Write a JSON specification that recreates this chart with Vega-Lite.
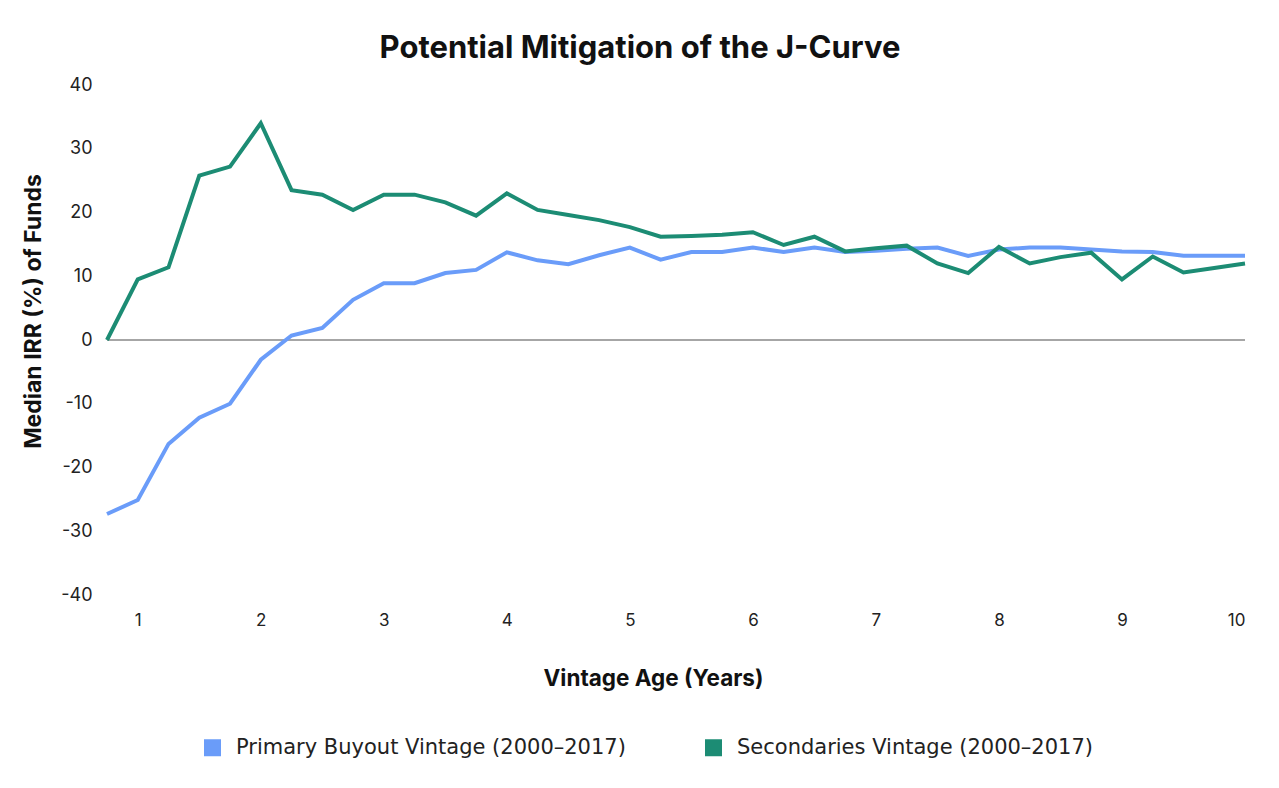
{
  "$schema": "https://vega.github.io/schema/vega-lite/v6.json",
  "width": 1138,
  "height": 510,
  "autosize": {"type": "none"},
  "padding": {"left": 107, "top": 85, "right": 34, "bottom": 193},
  "background": "white",
  "title": {
    "text": "Potential Mitigation of the J-Curve",
    "font": "Inter",
    "fontSize": 31,
    "fontWeight": "bold",
    "color": "#111111",
    "anchor": "middle",
    "frame": "group",
    "dx": -36,
    "offset": 11
  },
  "config": {
    "view": {"stroke": null},
    "font": "Inter"
  },
  "data": {
    "values": [
      {"x": 0.75, "series": "Primary Buyout Vintage (2000–2017)", "irr": -27.3},
      {"x": 1.0, "series": "Primary Buyout Vintage (2000–2017)", "irr": -25.1},
      {"x": 1.25, "series": "Primary Buyout Vintage (2000–2017)", "irr": -16.3},
      {"x": 1.5, "series": "Primary Buyout Vintage (2000–2017)", "irr": -12.2},
      {"x": 1.75, "series": "Primary Buyout Vintage (2000–2017)", "irr": -10.0},
      {"x": 2.0, "series": "Primary Buyout Vintage (2000–2017)", "irr": -3.1},
      {"x": 2.25, "series": "Primary Buyout Vintage (2000–2017)", "irr": 0.7},
      {"x": 2.5, "series": "Primary Buyout Vintage (2000–2017)", "irr": 1.9},
      {"x": 2.75, "series": "Primary Buyout Vintage (2000–2017)", "irr": 6.3},
      {"x": 3.0, "series": "Primary Buyout Vintage (2000–2017)", "irr": 8.9},
      {"x": 3.25, "series": "Primary Buyout Vintage (2000–2017)", "irr": 8.9},
      {"x": 3.5, "series": "Primary Buyout Vintage (2000–2017)", "irr": 10.5},
      {"x": 3.75, "series": "Primary Buyout Vintage (2000–2017)", "irr": 11.0},
      {"x": 4.0, "series": "Primary Buyout Vintage (2000–2017)", "irr": 13.75},
      {"x": 4.25, "series": "Primary Buyout Vintage (2000–2017)", "irr": 12.5},
      {"x": 4.5, "series": "Primary Buyout Vintage (2000–2017)", "irr": 11.9},
      {"x": 4.75, "series": "Primary Buyout Vintage (2000–2017)", "irr": 13.3},
      {"x": 5.0, "series": "Primary Buyout Vintage (2000–2017)", "irr": 14.5},
      {"x": 5.25, "series": "Primary Buyout Vintage (2000–2017)", "irr": 12.6},
      {"x": 5.5, "series": "Primary Buyout Vintage (2000–2017)", "irr": 13.8},
      {"x": 5.75, "series": "Primary Buyout Vintage (2000–2017)", "irr": 13.8},
      {"x": 6.0, "series": "Primary Buyout Vintage (2000–2017)", "irr": 14.5},
      {"x": 6.25, "series": "Primary Buyout Vintage (2000–2017)", "irr": 13.8},
      {"x": 6.5, "series": "Primary Buyout Vintage (2000–2017)", "irr": 14.5},
      {"x": 6.75, "series": "Primary Buyout Vintage (2000–2017)", "irr": 13.8},
      {"x": 7.0, "series": "Primary Buyout Vintage (2000–2017)", "irr": 14.0},
      {"x": 7.25, "series": "Primary Buyout Vintage (2000–2017)", "irr": 14.3},
      {"x": 7.5, "series": "Primary Buyout Vintage (2000–2017)", "irr": 14.5},
      {"x": 7.75, "series": "Primary Buyout Vintage (2000–2017)", "irr": 13.2},
      {"x": 8.0, "series": "Primary Buyout Vintage (2000–2017)", "irr": 14.2},
      {"x": 8.25, "series": "Primary Buyout Vintage (2000–2017)", "irr": 14.5},
      {"x": 8.5, "series": "Primary Buyout Vintage (2000–2017)", "irr": 14.5},
      {"x": 8.75, "series": "Primary Buyout Vintage (2000–2017)", "irr": 14.2},
      {"x": 9.0, "series": "Primary Buyout Vintage (2000–2017)", "irr": 13.9},
      {"x": 9.25, "series": "Primary Buyout Vintage (2000–2017)", "irr": 13.8},
      {"x": 9.5, "series": "Primary Buyout Vintage (2000–2017)", "irr": 13.2},
      {"x": 9.75, "series": "Primary Buyout Vintage (2000–2017)", "irr": 13.2},
      {"x": 10.0, "series": "Primary Buyout Vintage (2000–2017)", "irr": 13.2},
      {"x": 0.75, "series": "Secondaries Vintage (2000–2017)", "irr": 0.0},
      {"x": 1.0, "series": "Secondaries Vintage (2000–2017)", "irr": 9.5},
      {"x": 1.25, "series": "Secondaries Vintage (2000–2017)", "irr": 11.4},
      {"x": 1.5, "series": "Secondaries Vintage (2000–2017)", "irr": 25.8},
      {"x": 1.75, "series": "Secondaries Vintage (2000–2017)", "irr": 27.2},
      {"x": 2.0, "series": "Secondaries Vintage (2000–2017)", "irr": 34.0},
      {"x": 2.25, "series": "Secondaries Vintage (2000–2017)", "irr": 23.5},
      {"x": 2.5, "series": "Secondaries Vintage (2000–2017)", "irr": 22.8},
      {"x": 2.75, "series": "Secondaries Vintage (2000–2017)", "irr": 20.4},
      {"x": 3.0, "series": "Secondaries Vintage (2000–2017)", "irr": 22.8},
      {"x": 3.25, "series": "Secondaries Vintage (2000–2017)", "irr": 22.8},
      {"x": 3.5, "series": "Secondaries Vintage (2000–2017)", "irr": 21.6},
      {"x": 3.75, "series": "Secondaries Vintage (2000–2017)", "irr": 19.5},
      {"x": 4.0, "series": "Secondaries Vintage (2000–2017)", "irr": 23.0},
      {"x": 4.25, "series": "Secondaries Vintage (2000–2017)", "irr": 20.4},
      {"x": 4.5, "series": "Secondaries Vintage (2000–2017)", "irr": 19.6},
      {"x": 4.75, "series": "Secondaries Vintage (2000–2017)", "irr": 18.8},
      {"x": 5.0, "series": "Secondaries Vintage (2000–2017)", "irr": 17.7},
      {"x": 5.25, "series": "Secondaries Vintage (2000–2017)", "irr": 16.2},
      {"x": 5.5, "series": "Secondaries Vintage (2000–2017)", "irr": 16.3},
      {"x": 5.75, "series": "Secondaries Vintage (2000–2017)", "irr": 16.5},
      {"x": 6.0, "series": "Secondaries Vintage (2000–2017)", "irr": 16.9},
      {"x": 6.25, "series": "Secondaries Vintage (2000–2017)", "irr": 14.9},
      {"x": 6.5, "series": "Secondaries Vintage (2000–2017)", "irr": 16.2},
      {"x": 6.75, "series": "Secondaries Vintage (2000–2017)", "irr": 13.9},
      {"x": 7.0, "series": "Secondaries Vintage (2000–2017)", "irr": 14.4},
      {"x": 7.25, "series": "Secondaries Vintage (2000–2017)", "irr": 14.8},
      {"x": 7.5, "series": "Secondaries Vintage (2000–2017)", "irr": 12.0},
      {"x": 7.75, "series": "Secondaries Vintage (2000–2017)", "irr": 10.5},
      {"x": 8.0, "series": "Secondaries Vintage (2000–2017)", "irr": 14.6},
      {"x": 8.25, "series": "Secondaries Vintage (2000–2017)", "irr": 12.0},
      {"x": 8.5, "series": "Secondaries Vintage (2000–2017)", "irr": 13.0},
      {"x": 8.75, "series": "Secondaries Vintage (2000–2017)", "irr": 13.7},
      {"x": 9.0, "series": "Secondaries Vintage (2000–2017)", "irr": 9.5},
      {"x": 9.25, "series": "Secondaries Vintage (2000–2017)", "irr": 13.1},
      {"x": 9.5, "series": "Secondaries Vintage (2000–2017)", "irr": 10.6},
      {"x": 9.75, "series": "Secondaries Vintage (2000–2017)", "irr": 11.3},
      {"x": 10.0, "series": "Secondaries Vintage (2000–2017)", "irr": 12.0}
    ]
  },
  "layer": [
    {
      "mark": {"type": "rule", "color": "#a6a6a6", "strokeWidth": 1.5},
      "encoding": {"y": {"datum": 0, "type": "quantitative"}}
    },
    {
      "mark": {"type": "line", "strokeWidth": 4, "strokeJoin": "miter"},
      "encoding": {
        "x": {
          "field": "x",
          "type": "quantitative",
          "scale": {"domain": [0.75, 10], "nice": false, "zero": false},
          "axis": {
            "values": [1, 2, 3, 4, 5, 6, 7, 8, 9, 10],
            "format": "d",
            "grid": false,
            "domain": false,
            "ticks": false,
            "labelPadding": 17,
            "labelFontSize": 17,
            "labelColor": "#222222",
            "labelFont": "Inter",
            "title": "Vintage Age (Years)",
            "titleFont": "Inter",
            "titleFontSize": 22.5,
            "titleFontWeight": "bold",
            "titleColor": "#111111",
            "titleX": 546,
            "titleY": 83,
            "titleAlign": "center",
            "titleBaseline": "middle"
          }
        },
        "y": {
          "field": "irr",
          "type": "quantitative",
          "scale": {"domain": [-40, 40], "nice": false},
          "axis": {
            "values": [-40, -30, -20, -10, 0, 10, 20, 30, 40],
            "labelExpr": "'' + datum.value",
            "grid": false,
            "domain": false,
            "ticks": false,
            "labelPadding": 15,
            "labelFontSize": 18,
            "labelColor": "#222222",
            "labelFont": "Inter",
            "labelBaseline": "middle",
            "title": "Median IRR (%) of Funds",
            "titleFont": "Inter",
            "titleFontSize": 23,
            "titleFontWeight": "bold",
            "titleColor": "#111111",
            "titleAngle": -90,
            "titleX": -74,
            "titleY": 226,
            "titleAlign": "center",
            "titleBaseline": "middle"
          }
        },
        "color": {
          "field": "series",
          "type": "nominal",
          "scale": {
            "domain": ["Primary Buyout Vintage (2000–2017)", "Secondaries Vintage (2000–2017)"],
            "range": ["#6a9cf9", "#1c8c74"]
          },
          "legend": {
            "title": null,
            "orient": "none",
            "direction": "horizontal",
            "legendX": 95,
            "legendY": 652,
            "padding": 0,
            "symbolType": "square",
            "symbolSize": 289,
            "symbolStrokeWidth": 0,
            "labelFont": "DejaVu Sans",
            "labelFontSize": 21,
            "labelColor": "#222222",
            "labelOffset": 13,
            "columnPadding": 77,
            "labelLimit": 600,
            "encode": {
              "symbols": {
                "update": {
                  "fill": {"scale": "color", "field": "value"},
                  "fillOpacity": {"value": 1},
                  "strokeWidth": {"value": 0}
                }
              }
            }
          }
        }
      }
    }
  ]
}
